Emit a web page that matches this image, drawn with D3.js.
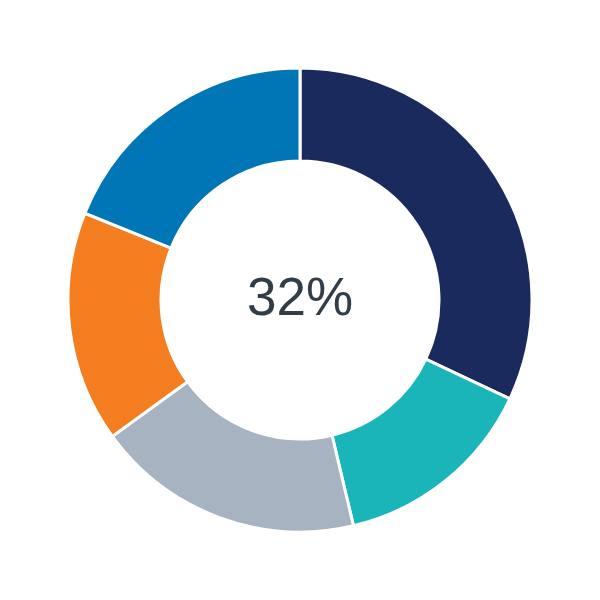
<!DOCTYPE html>
<html><head><meta charset="utf-8">
<script src="https://cdn.jsdelivr.net/npm/d3@7"></script>
<style>html,body{margin:0;padding:0;background:#fff;}</style>
</head><body>
<svg id="c" width="600" height="600"></svg>
<script>
const categories = ["A","B","C","D","E"];
const values = [32, 14.3, 18.7, 16.1, 18.9];
const colors = ["#1b2a5c","#1ab5b8","#a8b3c1","#f47d20","#0076b6"];
const centerLabel = "32%";

const svg = d3.select("#c");
const g = svg.append("g").attr("transform","translate(300,300)");
const data = categories.map((c,i)=>({c, v: values[i]}));
const pie = d3.pie().value(d=>d.v).sort(null);
const arc = d3.arc().innerRadius(139).outerRadius(232);
const color = d3.scaleOrdinal().domain(categories).range(colors);
g.selectAll("path").data(pie(data)).join("path")
  .attr("d", arc)
  .attr("fill", d=>color(d.data.c))
  .attr("stroke","#fff")
  .attr("stroke-width",3);
g.append("text").attr("text-anchor","middle").attr("y",15)
  .attr("font-family","Liberation Sans, Arial, sans-serif")
  .attr("font-size",53).attr("fill","#333d47").text(centerLabel);
</script>
</body></html>
